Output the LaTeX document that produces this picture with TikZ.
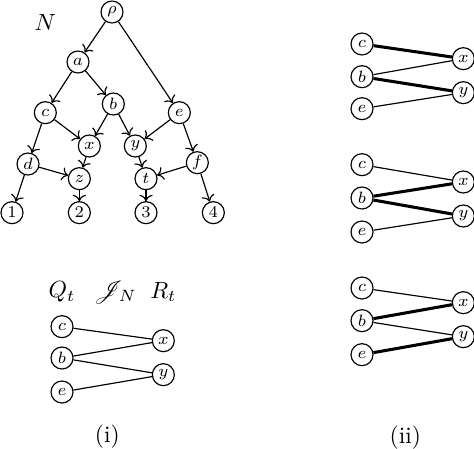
\documentclass[tikz,border=0pt]{standalone}
\usepackage{mathrsfs}
\usetikzlibrary{arrows.meta}

\tikzset{
  vert/.style={draw, circle, inner sep=0pt, minimum size=0.33cm, font=\scriptsize},
  lbl/.style={font=\normalsize},
  bold/.style={line width=1.3pt}
}

\begin{document}
\begin{tikzpicture}[line width=0.5pt]
\useasboundingbox (0,0) rectangle (7.11,6.72);

% the network N
\node[lbl] (N) at (0.68,6.39) {$N$};
\node[vert] (rho) at (1.68,6.54) {$\rho$};
\node[vert] (a) at (1.17,5.79) {$a$};
\node[vert] (c) at (0.68,5.03) {$c$};
\node[vert] (b) at (1.70,5.16) {$b$};
\node[vert] (e) at (2.69,5.03) {$e$};
\node[vert] (x) at (1.34,4.53) {$x$};
\node[vert] (y) at (2.03,4.53) {$y$};
\node[vert] (d) at (0.42,4.26) {$d$};
\node[vert] (f) at (2.96,4.28) {$f$};
\node[vert] (z) at (1.19,4.04) {$z$};
\node[vert] (t) at (2.19,4.04) {$t$};
\node[vert] (l1) at (0.18,3.53) {$1$};
\node[vert] (l2) at (1.19,3.53) {$2$};
\node[vert] (l3) at (2.19,3.53) {$3$};
\node[vert] (l4) at (3.20,3.53) {$4$};

\draw[->] (rho) -- (a);
\draw[->] (rho) -- (e);
\draw[->] (a) -- (c);
\draw[->] (a) -- (b);
\draw[->] (c) -- (d);
\draw[->] (c) -- (x);
\draw[->] (b) -- (x);
\draw[->] (b) -- (y);
\draw[->] (e) -- (y);
\draw[->] (e) -- (f);
\draw[->] (d) -- (l1);
\draw[->] (d) -- (z);
\draw[->] (x) -- (z);
\draw[->] (z) -- (l2);
\draw[->] (y) -- (t);
\draw[->] (f) -- (t);
\draw[->] (t) -- (l3);
\draw[->] (f) -- (l4);

% (i)
\node[lbl] (Q) at (0.93,2.34) {$Q_t$};
\node[lbl] (J) at (1.73,2.33) {$\mathscr{J}_N$};
\node[lbl] (R) at (2.45,2.34) {$R_t$};
\node[vert] (ci) at (0.93,1.82) {$c$};
\node[vert] (bi) at (0.93,1.35) {$b$};
\node[vert] (ei) at (0.93,0.84) {$e$};
\node[vert] (xi) at (2.45,1.61) {$x$};
\node[vert] (yi) at (2.45,1.10) {$y$};
\draw (ci) -- (xi);
\draw (bi) -- (xi);
\draw (bi) -- (yi);
\draw (ei) -- (yi);
\node (capi) at (1.61,0.17) {(i)};

% (ii), first matching
\node[vert] (c1) at (5.43,6.06) {$c$};
\node[vert] (b1) at (5.43,5.57) {$b$};
\node[vert] (e1) at (5.43,5.09) {$e$};
\node[vert] (x1) at (6.95,5.84) {$x$};
\node[vert] (y1) at (6.95,5.33) {$y$};
\draw[bold] (c1) -- (x1);
\draw (b1) -- (x1);
\draw[bold] (b1) -- (y1);
\draw (e1) -- (y1);

% second matching
\node[vert] (c2) at (5.43,4.25) {$c$};
\node[vert] (b2) at (5.43,3.75) {$b$};
\node[vert] (e2) at (5.43,3.24) {$e$};
\node[vert] (x2) at (6.95,3.99) {$x$};
\node[vert] (y2) at (6.95,3.48) {$y$};
\draw (c2) -- (x2);
\draw[bold] (b2) -- (x2);
\draw[bold] (b2) -- (y2);
\draw (e2) -- (y2);

% third matching
\node[vert] (c3) at (5.43,2.40) {$c$};
\node[vert] (b3) at (5.43,1.91) {$b$};
\node[vert] (e3) at (5.43,1.40) {$e$};
\node[vert] (x3) at (6.95,2.18) {$x$};
\node[vert] (y3) at (6.95,1.67) {$y$};
\draw (c3) -- (x3);
\draw[bold] (b3) -- (x3);
\draw (b3) -- (y3);
\draw[bold] (e3) -- (y3);

\node (capii) at (6.08,0.15) {(ii)};
\end{tikzpicture}
\end{document}
